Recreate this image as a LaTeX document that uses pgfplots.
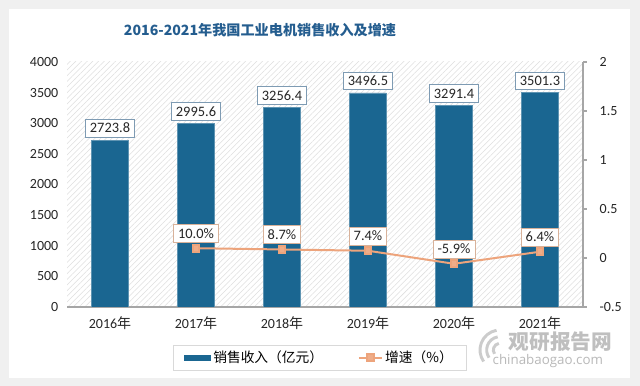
\documentclass[border=0pt]{standalone}
\usepackage{fontspec}
\setmainfont{Carlito}
\newfontfamily\cjk{Noto Sans CJK SC}
\newfontfamily\wm{Open Sans}
\usepackage{pgfplots}
\pgfplotsset{compat=1.18}
\usetikzlibrary{patterns.meta}
\definecolor{barc}{HTML}{1A6691}
\definecolor{linec}{HTML}{EDA47C}
\definecolor{titlec}{HTML}{245D8F}
\definecolor{axisc}{HTML}{A6A6A6}
\definecolor{bbox}{HTML}{7E9BB3}
\definecolor{lbox}{HTML}{D8B29A}

\pgfplotstableread{
x y
0 2723.8
1 2995.6
2 3256.4
3 3496.5
4 3291.4
5 3501.3
}\sales

\begin{document}
\begin{tikzpicture}
\fill[gray!12] (0,0) rectangle (480pt,289.5pt);
\fill[white] (6.75pt,6pt) rectangle (472.5pt,282.75pt);
\path[use as bounding box] (0,0) rectangle (480pt,289.5pt);
\fill[pattern={Lines[angle=45,distance=3pt,line width=0.4pt]}, pattern color=gray!25] (50.25pt,59.25pt) rectangle (437.25pt,243pt);

\node[font=\cjk\fontsize{10.6}{13}\selectfont\bfseries, text=titlec] at (195pt,267pt) {2016-2021年我国工业电机销售收入及增速};

\begin{axis}[
  at={(50.25pt,59.25pt)}, anchor=south west,
  scale only axis, width=387pt, height=183.75pt,
  xmin=-0.5, xmax=5.5, ymin=0, ymax=4000,
  ytick={0,500,...,4000},
  xtick={0,...,5},
  xticklabels={2016{\cjk 年},2017{\cjk 年},2018{\cjk 年},2019{\cjk 年},2020{\cjk 年},2021{\cjk 年}},
  axis x line*=bottom, axis y line*=left,
  y axis line style={draw=none},
  x axis line style={draw=axisc, line width=0.8pt, -},
  major tick length=0pt,
  tick style={draw=none},
  ticklabel style={font=\fontsize{10.5}{12}\selectfont, text=black!85},
  /pgf/number format/assume math mode=true,
  /pgf/number format/1000 sep={},
  yticklabel style={xshift=-3pt},
  xticklabel style={yshift=-4pt},
  ybar, bar width=27.75pt,
  nodes near coords={\pgfmathprintnumber[fixed,fixed zerofill,precision=1,1000 sep={},assume math mode=true]{\pgfplotspointmeta}},
  every node near coord/.append style={font=\fontsize{10.8}{12}\selectfont, text=black!85, draw=bbox, fill=white, inner xsep=3.4pt, inner ysep=3pt, yshift=2pt, line width=0.6pt},
]
\addplot[fill=barc, draw=barc!70!white, line width=0.4pt] table[x=x,y=y]{\sales};
\end{axis}

\begin{axis}[
  at={(50.25pt,59.25pt)}, anchor=south west,
  scale only axis, width=387pt, height=183.75pt,
  xmin=-0.5, xmax=5.5, ymin=-0.5, ymax=2,
  ytick={-0.5,0,0.5,1,1.5,2},
  yticklabels={-0.5,0,0.5,1,1.5,2},
  axis x line=none, axis y line*=right,
  y axis line style={draw=axisc, line width=0.8pt, -},
  ytick style={draw=axisc, line width=0.8pt},
  tick align=outside, major tick length=3pt,
  ticklabel style={font=\fontsize{10.5}{12}\selectfont, text=black!85},
  yticklabel style={anchor=west, xshift=6pt},
  point meta=explicit symbolic,
  nodes near coords,
  every node near coord/.append style={font=\fontsize{10.8}{12}\selectfont, text=black!85, draw=lbox, fill=white, inner xsep=3.4pt, inner ysep=3pt, yshift=4pt, line width=0.6pt},
  legend style={at={(0.4903,-0.208)}, anchor=center, draw=gray!30, line width=0.6pt, font=\cjk\fontsize{10.3}{12}\selectfont, legend columns=2, inner xsep=8pt, inner ysep=2pt, /tikz/every even column/.append style={column sep=24pt}},
  legend cell align=left,
]
\addlegendimage{legend image code/.code={\fill[barc] (0pt,-1.8pt) rectangle (19pt,1.8pt);}}
\addlegendentry{销售收入（亿元）}
\addplot[color=linec, line width=1.5pt, mark=square*, mark size=2.6pt, mark options={fill=linec!90!white, draw=linec}] coordinates {
(1,0.100) [10.0\%]
(2,0.087) [8.7\%]
(3,0.074) [7.4\%]
(4,-0.059) [-5.9\%]
(5,0.064) [6.4\%]
};
\addlegendentry{增速（\%）}
\end{axis}

\node[font=\cjk\fontsize{15.5}{17}\selectfont\bfseries, text=gray!50, anchor=west] at (378pt,33pt) {观研报告网};
\node[font=\wm\fontsize{10}{12}\selectfont, text=gray!55, anchor=west] at (366pt,18.5pt) {chinabaogao.com};
\foreach \r in {5,10,15} {
  \draw[gray!40, line width=2.2pt] (375pt,27pt) ++(100:\r pt) arc (100:215:\r pt);
}
\end{tikzpicture}
\end{document}
